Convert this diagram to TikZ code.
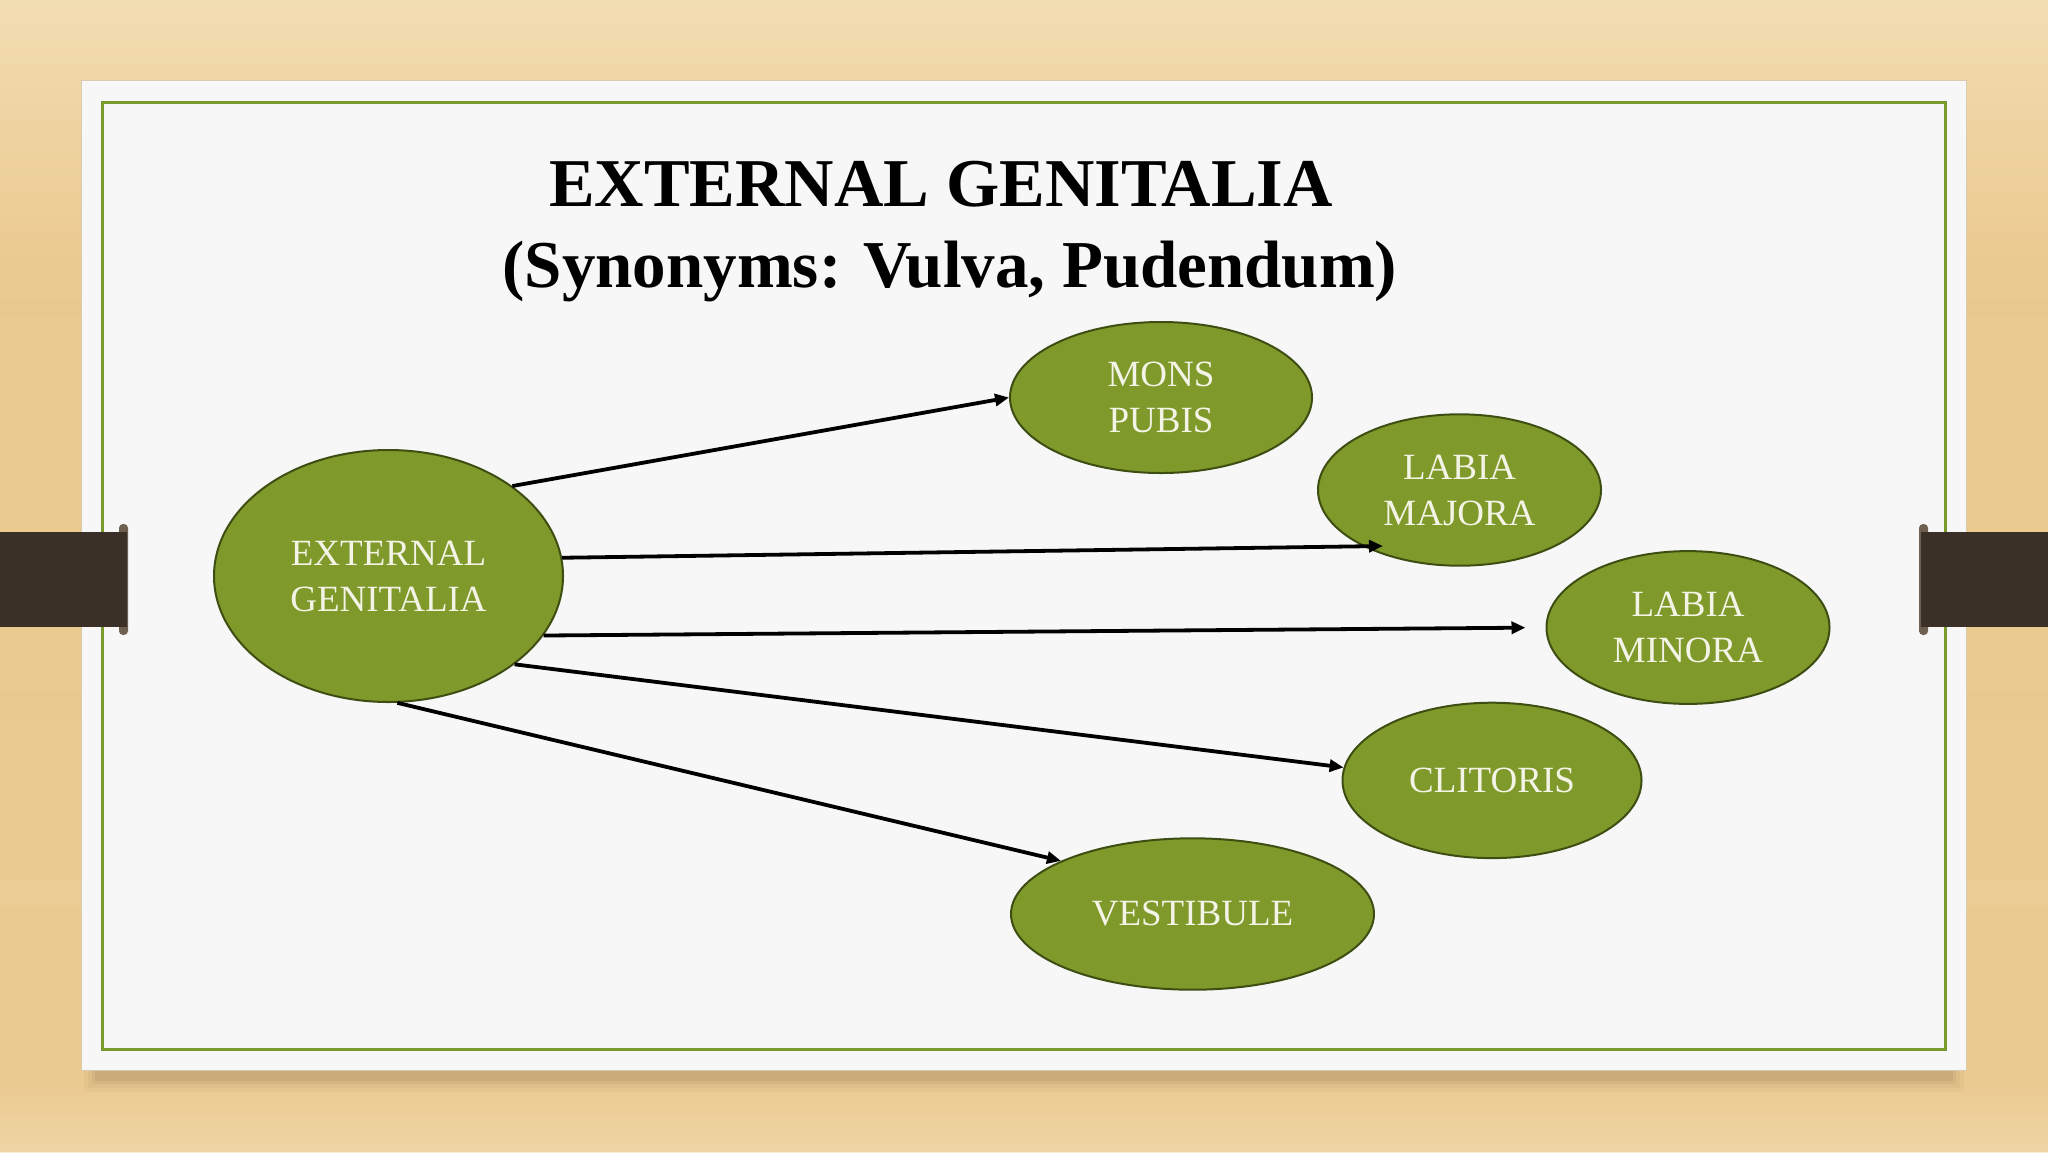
\documentclass[tikz,border=0pt]{standalone}
\usepackage{fontspec}
\setmainfont{Liberation Serif}
\usetikzlibrary{shapes.geometric,arrows.meta}
\definecolor{wood}{HTML}{EBCA90}
\definecolor{woodlight}{HTML}{F2DDB2}
\definecolor{wooddark}{HTML}{E2BD80}
\definecolor{paper}{HTML}{F7F7F7}
\definecolor{paperedge}{HTML}{D9CBAE}
\definecolor{frame}{HTML}{7B9A2C}
\definecolor{olive}{HTML}{7F992B}
\definecolor{olivedark}{HTML}{3E4E12}
\definecolor{cream}{HTML}{F4F4E6}
\definecolor{bar}{HTML}{3A3028}
\definecolor{barcap}{HTML}{6E6152}
\tikzset{
  blob/.style={ellipse, fill=olive, draw=olivedark, line width=1pt, text=cream,
    align=center, inner sep=0pt, font=\fontsize{18.5}{23}\selectfont},
  conn/.style={-{Triangle[length=7pt,width=6pt]}, line width=1.9pt, black},
  titletext/.style={anchor=base, font=\bfseries\fontsize{33.5}{40}\selectfont, text=black}
}
\begin{document}
\begin{tikzpicture}[x=0.5pt,y=-0.5pt]
\useasboundingbox (0,0) rectangle (2048,1152);
% wood background
\fill[wood] (0,0) rectangle (2048,1152);
\shade[top color=woodlight, bottom color=wood] (0,0) rectangle (2048,260);
\shade[top color=wood, bottom color=woodlight, opacity=0.6] (0,1080) rectangle (2048,1152);
\fill[wooddark, opacity=0.12] (0,690) rectangle (2048,720);
\fill[wooddark, opacity=0.12] (0,300) rectangle (2048,318);
\fill[woodlight, opacity=0.2] (0,880) rectangle (2048,905);
% paper shadow (soft)
\foreach \d/\o in {14/0.025,10/0.03,6/0.04,3/0.05}{
  \fill[black, opacity=\o] (98-\d,1060) rectangle (1950+\d,1078+\d);
}
% paper
\fill[paper] (81,80) rectangle (1966,1070);
\draw[paperedge, line width=0.5pt] (81,80) rectangle (1966,1070);
\draw[frame, line width=1.5pt] (102,102) rectangle (1945,1049);
% side bars
\fill[barcap, rounded corners=2pt] (119,524) rectangle (128,635);
\fill[bar] (0,532) rectangle (127,627);
\fill[barcap, rounded corners=2pt] (1919,524) rectangle (1928,635);
\fill[bar] (1921,532) rectangle (2048,627);
% title
\node[titletext, font=\bfseries\fontsize{34.2}{40}\selectfont] (t1) at (941,206) {EXTERNAL GENITALIA};
\node[titletext] (t2) at (950,287) {(Synonyms: Vulva, Pudendum)};
% nodes
\node[blob, minimum width=174.5pt, minimum height=126pt] (src) at (388.5,576) {EXTERNAL\\GENITALIA};
\node[blob, minimum width=151pt, minimum height=75.5pt] (mons) at (1161,397.5) {MONS\\PUBIS};
\node[blob, minimum width=141.5pt, minimum height=75.7pt] (majora) at (1459.5,490) {LABIA\\MAJORA};
\node[blob, minimum width=141.5pt, minimum height=76.4pt] (minora) at (1688,627.5) {LABIA\\MINORA};
\node[blob, minimum width=149.5pt, minimum height=77.7pt] (clit) at (1492,780.4) {CLITORIS};
\node[blob, minimum width=181.5pt, minimum height=75.7pt] (vest) at (1192.5,914) {VESTIBULE};
% connectors
\coordinate (majtip) at (1383,546);
\draw[conn] (src.36) -- (mons.west);
\draw[conn] (src.6) -- (majtip);
\draw[conn, shorten >=10pt] (src.-21) -- (minora.west);
\draw[conn] (src.-35) -- (clit.175);
\draw[conn] (src.-86) -- (vest.158);
\end{tikzpicture}
\end{document}
